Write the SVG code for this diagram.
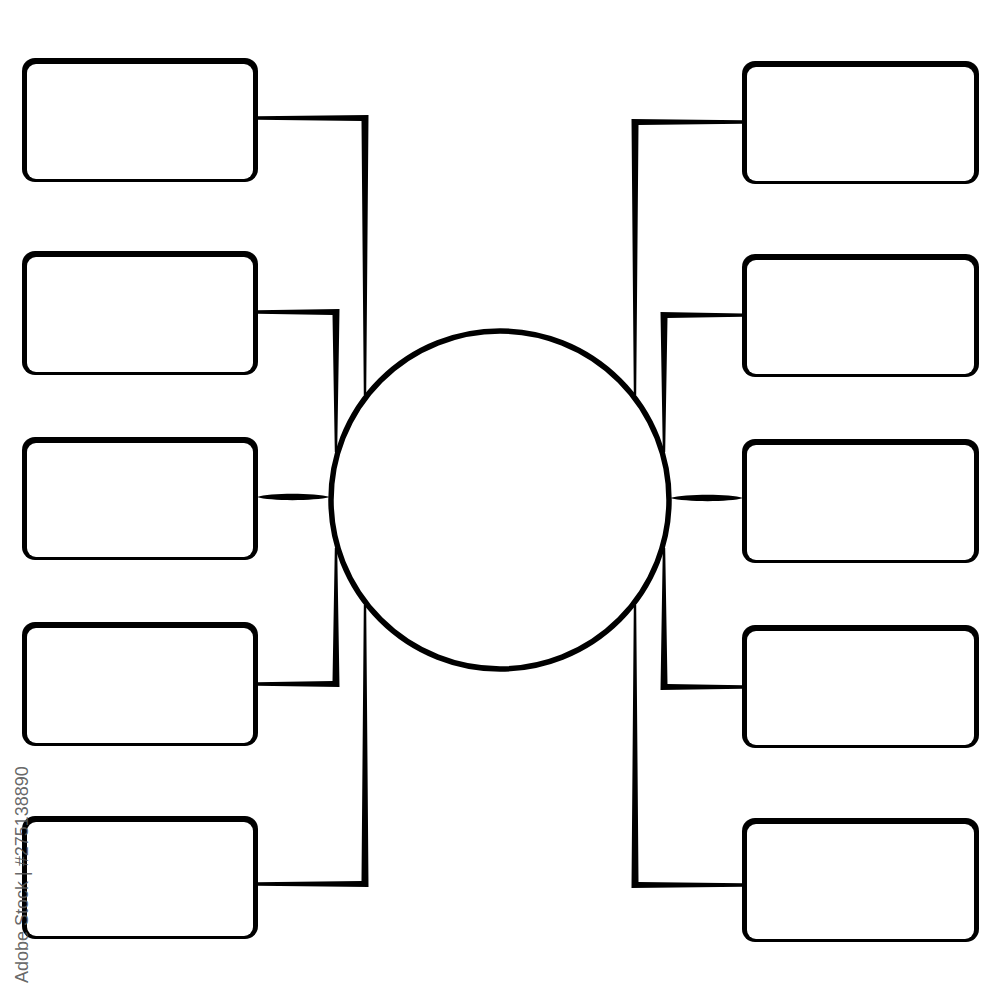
<svg xmlns="http://www.w3.org/2000/svg" width="1000" height="1000" viewBox="0 0 1000 1000">
<style>
.frame{fill:#000}
.inner{fill:#fff}
.conn{fill:#000}
.hub{fill:#fff;stroke:#000;stroke-width:5.5}
.wm{font-family:"Liberation Sans",Arial,sans-serif;font-size:18px;fill:#555;fill-opacity:0.9}
</style>
<rect width="1000" height="1000" fill="#fff"/>
<g id="connectors">
<path class="conn" d="M257,116.3 L368.5,115 L366.2,395 L363.8,395 L361.5,121 L257,119.7 Z"/>
<path class="conn" d="M257,310.3 L339.5,309 L337.2,452 L334.8,452 L332.5,315 L257,313.7 Z"/>
<path class="conn" d="M257,497 C270,492.8 314,492.8 330,497 C314,501.2 270,501.2 257,497 Z"/>
<path class="conn" d="M334.8,548 L337.2,548 L339.5,687 L257,685.7 L257,682.3 L332.5,681 Z"/>
<path class="conn" d="M363.8,605 L366.2,605 L368.5,887 L257,885.7 L257,882.3 L361.5,881 Z"/>
<path class="conn" d="M743,120.3 L631.5,119 L633.8,395 L636.2,395 L638.5,125 L743,123.7 Z"/>
<path class="conn" d="M743,313.5 L660.5,312 L662.8,452 L665.2,452 L667.5,318 L743,316.7 Z"/>
<path class="conn" d="M743,498 C730,493.8 686,493.8 670,498 C686,502.2 730,502.2 743,498 Z"/>
<path class="conn" d="M665.2,548 L662.8,548 L660.5,690 L743,688.7 L743,685.3 L667.5,684 Z"/>
<path class="conn" d="M636.2,605 L633.8,605 L631.5,888 L743,886.7 L743,883.3 L638.5,882 Z"/>
</g>
<g id="hub"><circle class="hub" cx="500" cy="500" r="169"/></g>
<g id="box-l1"><rect class="frame" x="22" y="58" width="236" height="124" rx="13"/><rect class="inner" x="27" y="64" width="226" height="115" rx="9"/></g>
<g id="box-l2"><rect class="frame" x="22" y="251" width="236" height="124" rx="13"/><rect class="inner" x="27" y="257" width="226" height="115" rx="9"/></g>
<g id="box-l3"><rect class="frame" x="22" y="437" width="236" height="123" rx="13"/><rect class="inner" x="27" y="443" width="226" height="114" rx="9"/></g>
<g id="box-l4"><rect class="frame" x="22" y="622" width="236" height="124" rx="13"/><rect class="inner" x="27" y="628" width="226" height="115" rx="9"/></g>
<g id="box-l5"><rect class="frame" x="22" y="816" width="236" height="123" rx="13"/><rect class="inner" x="27" y="822" width="226" height="114" rx="9"/></g>
<g id="box-r1"><rect class="frame" x="742" y="61" width="237" height="123" rx="13"/><rect class="inner" x="747" y="67" width="227" height="114" rx="9"/></g>
<g id="box-r2"><rect class="frame" x="742" y="254" width="237" height="123" rx="13"/><rect class="inner" x="747" y="260" width="227" height="114" rx="9"/></g>
<g id="box-r3"><rect class="frame" x="742" y="439" width="237" height="124" rx="13"/><rect class="inner" x="747" y="445" width="227" height="115" rx="9"/></g>
<g id="box-r4"><rect class="frame" x="742" y="625" width="237" height="123" rx="13"/><rect class="inner" x="747" y="631" width="227" height="114" rx="9"/></g>
<g id="box-r5"><rect class="frame" x="742" y="818" width="237" height="124" rx="13"/><rect class="inner" x="747" y="824" width="227" height="115" rx="9"/></g>
<text class="wm" transform="translate(28,983) rotate(-90)">Adobe Stock | #275138890</text>
</svg>
